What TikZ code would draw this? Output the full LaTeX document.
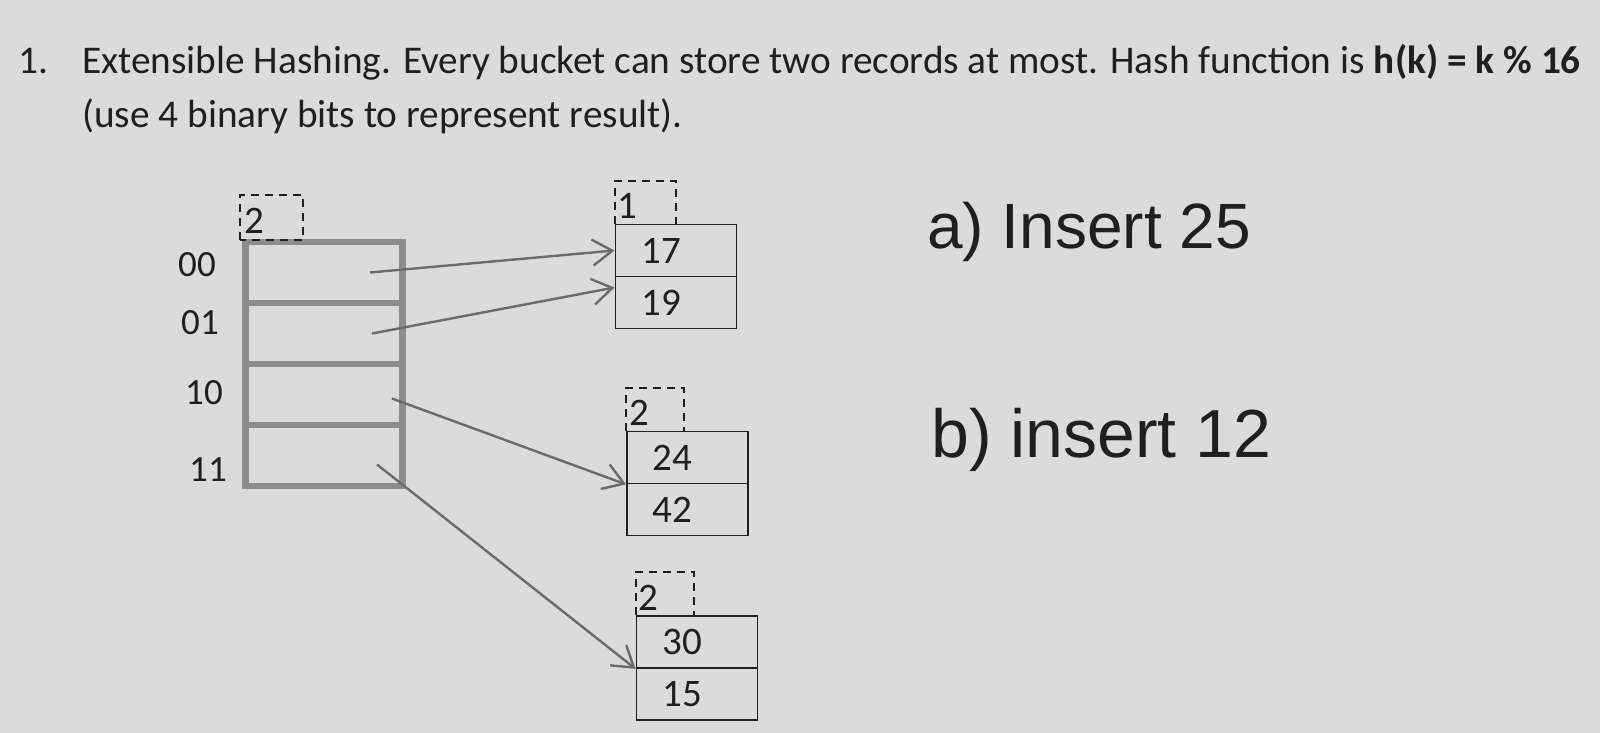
\documentclass[tikz,border=0pt]{standalone}
\usepackage{fontspec}
\setmainfont{Carlito}
\newfontfamily\qfont{Liberation Sans}
\usetikzlibrary{arrows.meta}

\definecolor{paper}{gray}{0.86}
\definecolor{ink}{gray}{0.12}
\definecolor{dirgray}{gray}{0.55}
\definecolor{ptrgray}{gray}{0.42}

\tikzset{
  dircell/.style={draw=dirgray, line width=6.5pt, minimum width=157pt,
    minimum height=61pt, inner sep=0pt},
  bucketcell/.style={draw=ink, line width=1.8pt, minimum width=121pt,
    minimum height=52pt, inner sep=0pt, text=ink,
    font=\fontsize{39}{42}\selectfont,
    execute at end node={\hspace*{30pt}}},
  depthnum/.style={inner sep=0pt, text=ink, font=\fontsize{39}{42}\selectfont},
  depthbox/.style={draw=ink, line width=2pt, dash pattern=on 8pt off 6pt},
  bits/.style={text=ink, font=\fontsize{37}{40}\selectfont},
  ptr/.style={draw=ptrgray, line width=2.4pt,
    -{Straight Barb[length=20pt,width=26pt,line width=2.4pt]}},
  title/.style={anchor=base west, inner sep=0pt, text=ink,
    font=\fontsize{39.3}{44}\selectfont},
  task/.style={anchor=base west, inner sep=0pt, text=ink,
    font=\qfont\fontsize{64}{70}\selectfont},
}

\begin{document}
\begin{tikzpicture}[x=1pt, y=-1pt]
  \fill[paper] (0,0) rectangle (1600,733);
  \useasboundingbox (0,0) rectangle (1600,733);

  % question text
  \node[title] (num) at (18,74) {1.};
  \node[title] (line1) at (82,74) {Extensible Hashing. Every bucket can store two records at most. Hash function is \textbf{h(k) = k \% 16}};
  \node[title] (line2) at (82,128) {(use 4 binary bits to represent result).};

  % directory
  \foreach \i/\cy in {0/272.5, 1/333.5, 2/394.5, 3/455.5}
    \node[dircell] (d\i) at (324,\cy) {};
  \foreach \b/\lx/\ly in {00/197/265, 01/200/323, 10/204/393, 11/208/470}
    \node[bits] (bits\b) at (\lx,\ly) {\b};
  \draw[depthbox] (240,240) rectangle (303,195);
  \node[depthnum, anchor=base west] (gdepth) at (244,233) {2};

  % buckets
  \node[bucketcell] (b1a) at (676,250.5) {17};
  \node[bucketcell] (b1b) at (676,302.5) {19};
  \node[bucketcell] (b2a) at (687.5,457.5) {24};
  \node[bucketcell] (b2b) at (687.5,509.5) {42};
  \node[bucketcell] (b3a) at (697,642) {30};
  \node[bucketcell] (b3b) at (697,694) {15};

  % local depths
  \foreach \b/\d/\w in {b1a/1/61, b2a/2/58, b3a/2/58} {
    \draw[depthbox] (\b.north west) -- ++(0,-43) -- ++(\w,0) -- ++(0,43);
    \node[depthnum, anchor=base west] (ld\b) at ([shift={(3,-5)}]\b.north west) {\d};
  }

  % pointers
  \coordinate (p0) at ([xshift=46pt]d0.center);
  \coordinate (p1) at ([xshift=48pt]d1.center);
  \coordinate (p2) at ([xshift=68pt,yshift=-4pt]d2.center);
  \coordinate (p3) at ([xshift=53pt,yshift=-9pt]d3.center);
  \draw[ptr] (p0) -- (b1a.west);
  \draw[ptr] (p1) -- ([yshift=15pt]b1b.west);
  \draw[ptr] (p2) -- (b2a.south west);
  \draw[ptr] (p3) -- (b3a.south west);

  % tasks
  \node[task] (ta) at (927,248) {a) Insert 25};
  \node[task, font=\qfont\fontsize{68}{74}\selectfont] (tb) at (931,457) {b) insert 12};
\end{tikzpicture}
\end{document}
